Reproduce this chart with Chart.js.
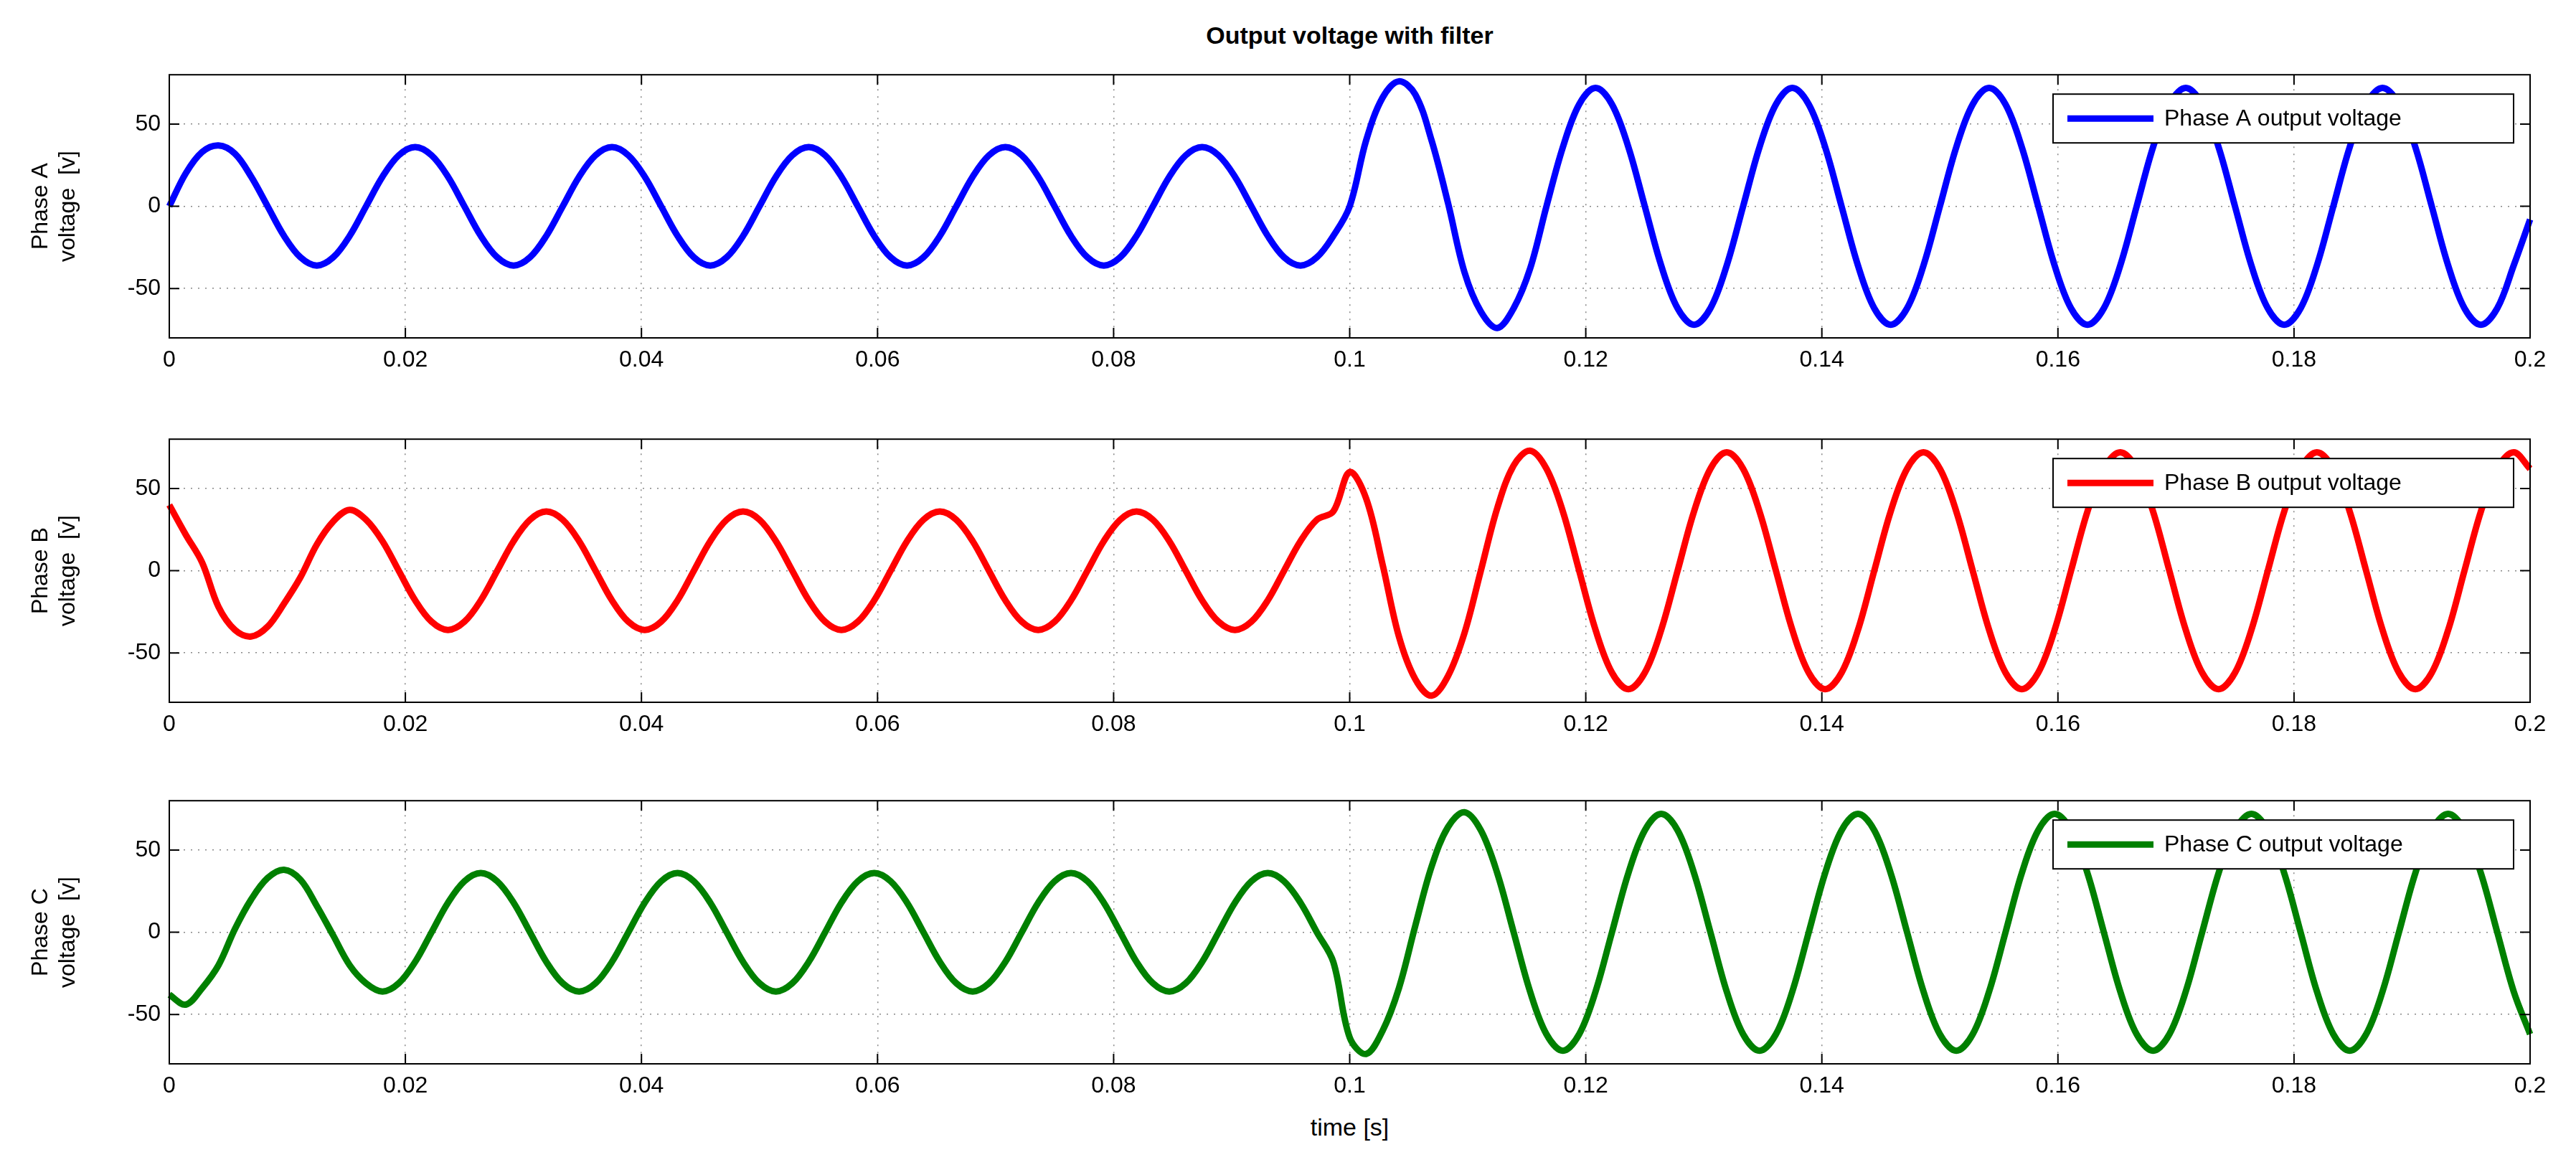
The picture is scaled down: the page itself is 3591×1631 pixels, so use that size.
<!DOCTYPE html>
<html><head><meta charset="utf-8">
<script src="https://cdn.jsdelivr.net/npm/chart.js@4"></script>
<style>
body{margin:0;background:#fff;width:3591px;height:1631px;position:relative;overflow:hidden;font-family:"Liberation Sans",Arial,sans-serif}
.c{position:absolute;left:0;width:3591px}
#title{position:absolute;top:30px;left:236px;width:3291px;text-align:center;font-weight:bold;font-size:34px}
#xl{position:absolute;top:1552px;left:236px;width:3291px;text-align:center;font-size:34px}
</style></head><body>
<div id="title">Output voltage with filter</div>
<div id="xl">time [s]</div>
<div class="c" style="top:73px;height:478px"><canvas id="c0"></canvas></div>
<div class="c" style="top:581px;height:478px"><canvas id="c1"></canvas></div>
<div class="c" style="top:1085px;height:478px"><canvas id="c2"></canvas></div>
<script>
const xTicks=[0,0.02,0.04,0.06,0.08,0.1,0.12,0.14,0.16,0.18,0.2];
const yTicks=[-50,0,50];
const time=[0,.00139,.00278,.00417,.00556,.00694,.00833,.00972,.01111,.0125,.01389,.01528,
.01667,.01806,.01944,.02083,.02222,.02361,.025,.02639,.02778,.02917,.03056,.03194,
.03333,.03472,.03611,.0375,.03889,.04028,.04167,.04306,.04444,.04583,.04722,.04861,
.05,.05139,.05278,.05417,.05556,.05694,.05833,.05972,.06111,.0625,.06389,.06528,
.06667,.06806,.06944,.07083,.07222,.07361,.075,.07639,.07778,.07917,.08056,.08194,
.08333,.08472,.08611,.0875,.08889,.09028,.09167,.09306,.09444,.09583,.09722,.09861,
.1,.10139,.10278,.10417,.10556,.10694,.10833,.10972,.11111,.1125,.11389,.11528,
.11667,.11806,.11944,.12083,.12222,.12361,.125,.12639,.12778,.12917,.13056,.13194,
.13333,.13472,.13611,.1375,.13889,.14028,.14167,.14306,.14444,.14583,.14722,.14861,
.15,.15139,.15278,.15417,.15556,.15694,.15833,.15972,.16111,.1625,.16389,.16528,
.16667,.16806,.16944,.17083,.17222,.17361,.175,.17639,.17778,.17917,.18056,.18194,
.18333,.18472,.18611,.1875,.18889,.19028,.19167,.19306,.19444,.19583,.19722,.19861,
.2];
const phaseA=[0,20,33,37,32,18,0,-18,-31,-36,-31,-18,
0,18,31,36,31,18,0,-18,-31,-36,-31,-18,
0,18,31,36,31,18,0,-18,-31,-36,-31,-18,
0,18,31,36,31,18,0,-18,-31,-36,-31,-18,
0,18,31,36,31,18,0,-18,-31,-36,-31,-18,
0,18,31,36,31,18,0,-18,-31,-36,-31,-18,
0,40,66,76,68,40,2,-40,-64,-74,-62,-38,
0,36,62,72,62,36,0,-36,-62,-72,-62,-36,
0,36,62,72,62,36,0,-36,-62,-72,-62,-36,
0,36,62,72,62,36,0,-36,-62,-72,-62,-36,
0,36,62,72,62,36,0,-36,-62,-72,-62,-36,
0,36,62,72,62,36,0,-36,-62,-72,-62,-36,
-8];
const phaseB=[40,22,5,-22,-36,-40,-34,-20,-4,16,30,37,
31,18,0,-18,-31,-36,-31,-18,0,18,31,36,
31,18,0,-18,-31,-36,-31,-18,0,18,31,36,
31,18,0,-18,-31,-36,-31,-18,0,18,31,36,
31,18,0,-18,-31,-36,-31,-18,0,18,31,36,
31,18,0,-18,-31,-36,-31,-18,0,18,31,36,
60,44,4,-40,-66,-76,-64,-38,0,38,64,73,
62,36,0,-36,-62,-72,-62,-36,0,36,62,72,
62,36,0,-36,-62,-72,-62,-36,0,36,62,72,
62,36,0,-36,-62,-72,-62,-36,0,36,62,72,
62,36,0,-36,-62,-72,-62,-36,0,36,62,72,
62,36,0,-36,-62,-72,-62,-36,0,36,62,72,
62];
const phaseC=[-38,-44,-34,-20,2,20,33,38,32,16,-2,-20,
-31,-36,-31,-18,0,18,31,36,31,18,0,-18,
-31,-36,-31,-18,0,18,31,36,31,18,0,-18,
-31,-36,-31,-18,0,18,31,36,31,18,0,-18,
-31,-36,-31,-18,0,18,31,36,31,18,0,-18,
-31,-36,-31,-18,0,18,31,36,31,18,0,-18,
-64,-74,-60,-34,4,40,64,73,62,36,0,-36,
-62,-72,-62,-36,0,36,62,72,62,36,0,-36,
-62,-72,-62,-36,0,36,62,72,62,36,0,-36,
-62,-72,-62,-36,0,36,62,72,62,36,0,-36,
-62,-72,-62,-36,0,36,62,72,62,36,0,-36,
-62,-72,-62,-36,0,36,62,72,62,36,0,-36,
-62];
const series=[
 {id:'c0',v:phaseA,color:'#0000ff',name:'Phase A output voltage',yl:['Phase A','voltage  [v]']},
 {id:'c1',v:phaseB,color:'#ff0000',name:'Phase B output voltage',yl:['Phase B','voltage  [v]']},
 {id:'c2',v:phaseC,color:'#008000',name:'Phase C output voltage',yl:['Phase C','voltage  [v]']}
];
const F='"Liberation Sans",Arial,sans-serif';
const frame={id:'frame',afterDraw(ch,a,o){const c=ch.ctx,ar=ch.chartArea;c.save();c.strokeStyle='#000';c.lineWidth=2;c.strokeRect(ar.left,ar.top,ar.right-ar.left,ar.bottom-ar.top);
 c.beginPath();
 ch.scales.x.ticks.forEach(t=>{const x=ch.scales.x.getPixelForValue(t.value);c.moveTo(x,ar.bottom);c.lineTo(x,ar.bottom-14);c.moveTo(x,ar.top);c.lineTo(x,ar.top+14);});
 ch.scales.y.ticks.forEach(t=>{const y=ch.scales.y.getPixelForValue(t.value);c.moveTo(ar.left,y);c.lineTo(ar.left+14,y);c.moveTo(ar.right,y);c.lineTo(ar.right-14,y);});
 c.stroke();
 const w=642,h=68,x=ar.right-23-w,y=ar.top+27;c.fillStyle='#fff';c.fillRect(x,y,w,h);c.lineWidth=2;c.strokeStyle='#000';c.strokeRect(x,y,w,h);
 c.strokeStyle=o.color;c.lineWidth=9;c.beginPath();c.moveTo(x+20,y+h/2);c.lineTo(x+140,y+h/2);c.stroke();
 c.fillStyle='#000';c.font='32px '+F;c.textBaseline='middle';c.fillText(o.name,x+155,y+h/2+1);c.restore();}};
series.forEach(s=>{
 new Chart(document.getElementById(s.id),{type:'line',
  data:{datasets:[{data:time.map((t,i)=>({x:t,y:s.v[i]})),borderColor:s.color,borderWidth:9,pointRadius:0,tension:0.35,fill:false,clip:false}]},
  plugins:[frame],
  options:{responsive:true,maintainAspectRatio:false,animation:false,
   layout:{padding:{top:10,right:64,left:0,bottom:0}},
   plugins:{legend:{display:false},tooltip:{enabled:false},frame:{color:s.color,name:s.name}},
   scales:{
    x:{type:'linear',min:0,max:0.2,afterBuildTicks:ax=>{ax.ticks=xTicks.map(v=>({value:v}))},
     ticks:{color:'#000',font:{size:32,family:F},padding:12,callback:v=>String(+v.toFixed(2)),maxRotation:0},
     grid:{color:'#888',lineWidth:1.5,drawTicks:false},border:{display:false,dash:[2,8]},
     afterFit:ax=>{ax.height=80}},
    y:{min:-80,max:80,afterBuildTicks:ax=>{ax.ticks=yTicks.map(v=>({value:v}))},
     ticks:{color:'#000',font:{size:32,family:F},padding:12},
     grid:{color:'#888',lineWidth:1.5,drawTicks:false},border:{display:false,dash:[2,8]},
     title:{display:true,text:s.yl,color:'#000',font:{size:32,family:F},padding:{top:38,bottom:0}},
     afterFit:ax=>{ax.width=236}}
   }}});
});
</script></body></html>
